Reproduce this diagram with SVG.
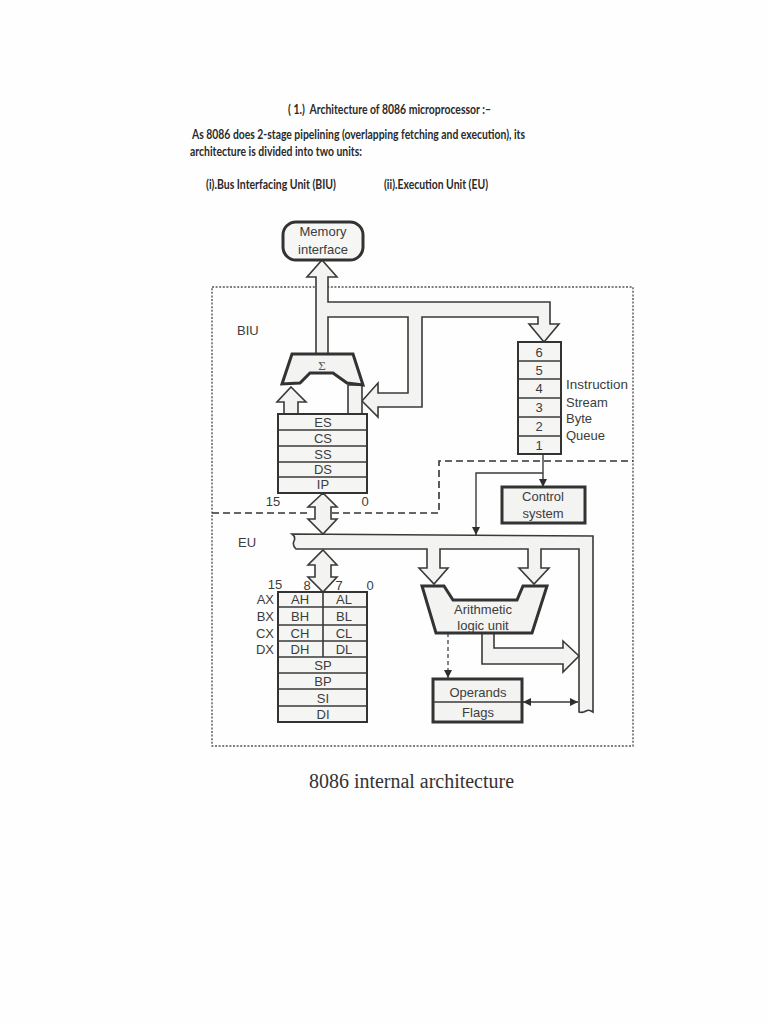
<svg xmlns="http://www.w3.org/2000/svg" width="768" height="1024" viewBox="0 0 768 1024">
<style>
.h{font-family:Lato,"Liberation Sans",sans-serif;font-weight:700;font-size:12.5px;fill:#2a2a2a}
.t{font-family:"Liberation Sans",Arial,sans-serif;font-size:13px;fill:#3c3c3c}
.m{text-anchor:middle}
.e{text-anchor:end}
.cap{font-family:"Liberation Serif",serif;font-size:20px;fill:#333}
.bus{fill:#f3f3f1;stroke:#3a3a3a;stroke-width:1.6;stroke-linejoin:miter}
.box{fill:#f5f5f3;stroke:#333;stroke-width:2}
.thick{fill:#f3f3f1;stroke:#333;stroke-width:3}
.row{stroke:#3a3a3a;stroke-width:1.6;fill:none}
.dot{fill:none;stroke:#555;stroke-width:1.4;stroke-dasharray:2 1.6}
.dash{fill:none;stroke:#333;stroke-width:1.6;stroke-dasharray:7 4}
.ln{fill:none;stroke:#3a3a3a;stroke-width:1.4}
</style>
<defs>
<marker id="ah" markerWidth="9" markerHeight="9" refX="8" refY="4" orient="auto-start-reverse" markerUnits="userSpaceOnUse"><path d="M0 0L8 4L0 8z" fill="#2e2e2e"/></marker>
</defs>
<rect width="768" height="1024" fill="#fefefe"/>
<g id="heading">
<text class="h" x="288" y="114" textLength="203" lengthAdjust="spacingAndGlyphs">( 1.)&#160; Architecture of 8086 microprocessor :–</text>
<text class="h" x="192" y="139" textLength="333" lengthAdjust="spacingAndGlyphs">As 8086 does 2-stage pipelining (overlapping fetching and execution), its</text>
<text class="h" x="190" y="156" textLength="172" lengthAdjust="spacingAndGlyphs">architecture is divided into two units:</text>
<text class="h" x="206" y="189" textLength="130" lengthAdjust="spacingAndGlyphs">(i).Bus Interfacing Unit (BIU)</text>
<text class="h" x="384" y="189" textLength="104" lengthAdjust="spacingAndGlyphs">(ii).Execution Unit (EU)</text>
</g>
<g id="regions">
<rect class="dot" x="212" y="287" width="421" height="459"/>
<path class="dash" d="M212 513H307M332 513H439V461H633"/>
<text class="t" x="237" y="335">BIU</text>
<text class="t" x="238" y="547">EU</text>
</g>
<g id="connectors">
<path id="biu-bus" class="bus" d="M322 260L337 277H328V302H550V324H559L544 342L529 324H538V317H422V407H378V417L362 401L378 383V393H408V317H328V354H316V277H307Z"/>
<path id="seg-left" class="bus" d="M291 387L306 402H298V414H284V402H277Z"/>
<path id="seg-right" class="bus" d="M348 385H362V414H348Z"/>
<path id="biu-eu" class="bus" d="M323 493L337 507H331V519H337L323 534L308 519H315V507H308Z"/>
<path id="eu-bus" class="bus" d="M292 534L593 536V712Q589 709 586 711T579 712V549H541V568H549L534 584L519 568H528V549H440V568H448L434 584L419 568H427V549H296Q292 545 294 541T292 534Z"/>
<path id="gpr-bus" class="bus" d="M323 550L337 565H331V577H337L323 592L308 577H315V565H308Z"/>
<path id="alu-out" class="bus" d="M482 632H494V648H563V641L579 656L563 672V664H482Z"/>
<path class="ln" d="M543 454V487" marker-end="url(#ah)"/>
<path class="ln" d="M543 473H476V535" marker-end="url(#ah)"/>
<path class="dash" style="stroke-width:1.2;stroke-dasharray:4 3" d="M448 633V678" marker-end="url(#ah)"/>
<path class="ln" d="M523 702H578" marker-start="url(#ah)" marker-end="url(#ah)"/>
</g>
<g id="memory-interface">
<rect class="thick" style="fill:#f6f6f4" x="283" y="222" width="80" height="38" rx="13"/>
<text class="t m" x="323" y="236">Memory</text>
<text class="t m" x="323" y="254">interface</text>
</g>
<g id="sigma-adder">
<path class="thick" d="M292 354H353L363 385L347 383L333 373H310L300 383L282 384Z"/>
<text x="322" y="370" font-family="Liberation Serif,serif" font-size="13" text-anchor="middle" fill="#555">Σ</text>
</g>
<g id="segment-registers">
<rect class="box" x="278" y="414" width="89" height="79"/>
<path class="row" d="M278 430H367M278 446H367M278 462H367M278 477H367"/>
<text class="t m" x="323" y="427">ES</text>
<text class="t m" x="323" y="443">CS</text>
<text class="t m" x="323" y="459">SS</text>
<text class="t m" x="323" y="474">DS</text>
<text class="t m" x="323" y="489">IP</text>
<text class="t m" x="273" y="506">15</text>
<text class="t m" x="365" y="506">0</text>
</g>
<g id="instruction-queue">
<rect class="box" x="518" y="342" width="43" height="112"/>
<path class="row" d="M518 361H561M518 379H561M518 398H561M518 417H561M518 436H561"/>
<text class="t m" x="539" y="357">6</text>
<text class="t m" x="539" y="375">5</text>
<text class="t m" x="539" y="393">4</text>
<text class="t m" x="539" y="412">3</text>
<text class="t m" x="539" y="431">2</text>
<text class="t m" x="539" y="450">1</text>
<text class="t" x="566" y="389" textLength="62" lengthAdjust="spacingAndGlyphs">Instruction</text>
<text class="t" x="566" y="407">Stream</text>
<text class="t" x="566" y="423">Byte</text>
<text class="t" x="566" y="440">Queue</text>
</g>
<g id="control-system">
<rect class="thick" x="502" y="487" width="83" height="36"/>
<text class="t m" x="543" y="501">Control</text>
<text class="t m" x="543" y="518">system</text>
</g>
<g id="general-registers">
<rect class="box" x="278" y="592" width="89" height="130"/>
<path class="row" d="M278 607H367M278 625H367M278 641H367M278 657H367M278 673H367M278 689H367M278 706H367M323 592V657"/>
<text class="t m" x="300" y="604">AH</text><text class="t m" x="344" y="604">AL</text>
<text class="t m" x="300" y="621">BH</text><text class="t m" x="344" y="621">BL</text>
<text class="t m" x="300" y="638">CH</text><text class="t m" x="344" y="638">CL</text>
<text class="t m" x="300" y="654">DH</text><text class="t m" x="344" y="654">DL</text>
<text class="t m" x="323" y="670">SP</text>
<text class="t m" x="323" y="686">BP</text>
<text class="t m" x="323" y="703">SI</text>
<text class="t m" x="323" y="719">DI</text>
<text class="t e" x="274" y="604">AX</text>
<text class="t e" x="274" y="621">BX</text>
<text class="t e" x="274" y="638">CX</text>
<text class="t e" x="274" y="654">DX</text>
<text class="t m" x="275" y="589">15</text>
<text class="t m" x="307" y="590">8</text>
<text class="t m" x="339" y="590">7</text>
<text class="t m" x="370" y="590">0</text>
</g>
<g id="alu">
<path class="thick" d="M422 586H444L453 600H517L523 586H547L532 633H436Z"/>
<text class="t m" x="483" y="614">Arithmetic</text>
<text class="t m" x="483" y="630">logic unit</text>
</g>
<g id="operands-flags">
<rect class="thick" x="433" y="679" width="89" height="43"/>
<path class="row" d="M433 702H522"/>
<text class="t m" x="478" y="697">Operands</text>
<text class="t m" x="478" y="717">Flags</text>
</g>
<text class="cap" x="309" y="788" textLength="205" lengthAdjust="spacingAndGlyphs">8086 internal architecture</text>
</svg>
